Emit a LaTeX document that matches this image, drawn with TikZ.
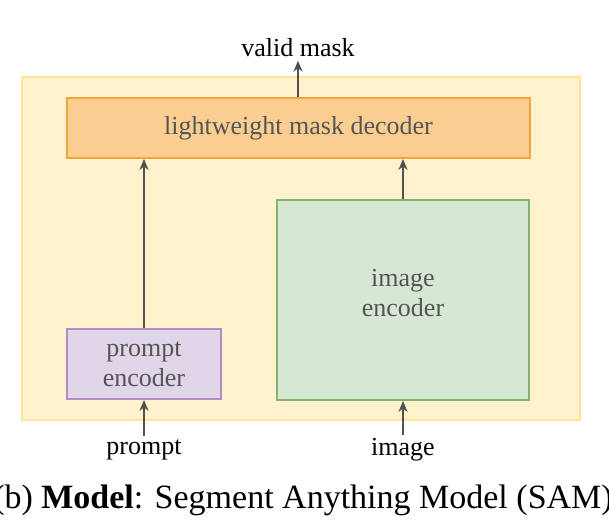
\documentclass[tikz,border=0pt]{standalone}
\usepackage{fontspec}
\setmainfont{Liberation Serif}
\usetikzlibrary{arrows.meta}
\definecolor{txt}{RGB}{85,85,85}
\definecolor{arr}{RGB}{80,80,80}
\tikzset{
 box/.style={draw, line width=1.8pt, inner sep=0pt, text=txt, align=center, font=\fontsize{26}{30}\selectfont},
 boxtext/.style={text=txt, align=center, font=\fontsize{26}{30}\selectfont},
 lbl/.style={font=\fontsize{26}{30}\selectfont, text=black},
 ar/.style={-{Stealth[length=11pt,width=9pt]}, line width=2pt, draw=arr}
}
\begin{document}
\begin{tikzpicture}[x=1pt,y=-1pt]
\useasboundingbox (0,0) rectangle (609,530);
\clip (0,0) rectangle (609,530);
\node[box, draw={rgb,255:red,255;green,228;blue,150}, fill={rgb,255:red,255;green,242;blue,204}, minimum width=558pt, minimum height=343pt] (outer) at (301,248.5) {};
\node[box, draw={rgb,255:red,240;green,165;blue,60}, fill={rgb,255:red,250;green,206;blue,145}, minimum width=463pt, minimum height=60pt] (dec) at (298.5,128) {lightweight mask decoder};
\node[box, draw={rgb,255:red,130;green,180;blue,110}, fill={rgb,255:red,214;green,232;blue,212}, minimum width=252pt, minimum height=200pt] (ie) at (403,300) {};
\node[boxtext] (ietxt) at (403,293) {image\\encoder};
\node[box, draw={rgb,255:red,180;green,140;blue,200}, fill={rgb,255:red,225;green,213;blue,232}, minimum width=154pt, minimum height=70pt] (pe) at (144,364) {prompt\\encoder};
\node[lbl] (vm) at (298,48) {valid mask};
\node[lbl] (pr) at (144,450) {prompt};
\node[lbl] (im) at (403,450) {image};
\draw[ar] (dec.north -| vm) -- (vm.south);
\draw[ar] (pe.north) -- (pe.north |- dec.south);
\draw[ar] (ie.north) -- (ie.north |- dec.south);
\draw[ar] (pr.north) -- (pe.south);
\draw[ar] (im.north) -- (ie.south);
\node[font=\fontsize{34}{38}\selectfont] (cap) at (303,500) {(b) \textbf{Model}: Segment Anything Model (SAM)};
\end{tikzpicture}
\end{document}
